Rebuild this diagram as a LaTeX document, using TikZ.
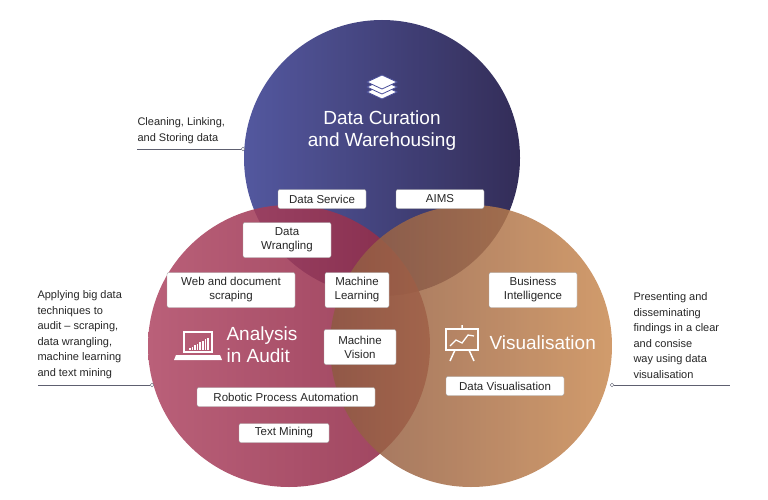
\documentclass[tikz,border=0pt]{standalone}
\usepackage{fontspec}
\setmainfont{Liberation Sans}
\usetikzlibrary{positioning}
\definecolor{curation}{HTML}{4A4F9A}
\definecolor{curationdark}{HTML}{28224F}
\definecolor{audit}{HTML}{B04A66}
\definecolor{auditdark}{HTML}{8E2846}
\definecolor{visual}{HTML}{8E5A42}
\definecolor{visuallight}{HTML}{C98A52}
\definecolor{note}{HTML}{5E6070}
\tikzset{
  tag/.style={draw=gray!70,fill=white,rounded corners=2pt,align=center,
    font=\fontsize{11.5}{14}\selectfont,text=black!85,inner sep=2pt},
  title/.style={text=white,align=left,font=\fontsize{19}{22}\selectfont},
  remark/.style={align=left,anchor=south west,font=\fontsize{11}{15.5}\selectfont,text=black!85},
  lead/.style={draw=note,thin},
  dot/.style={circle,draw=note,fill=white,inner sep=1.3pt}
}
\begin{document}
\begin{tikzpicture}[x=1pt,y=-1pt]
    \useasboundingbox (0,0) rectangle (768,500);
    % the three circles
    \shade[left color=curation,right color=curationdark,fill opacity=0.95] (382,158) circle[radius=138pt];
    \shade[left color=audit,right color=auditdark,fill opacity=0.88] (289,346) circle[radius=141pt];
    \shade[left color=visual,right color=visuallight,fill opacity=0.85] (471,346) circle[radius=141pt];
    % titles
    \node[title,align=center] (curate) at (382,131) {Data Curation\\and Warehousing};
    \node[title,anchor=west] (audit) at (223,345) {Analysis\\in Audit};
    \node[title,anchor=west] (vis) at (486,343) {Visualisation};
    % layers icon
    \foreach \dy in {10,5,0}
      \draw[white,fill=white,draw=curation,line width=0.8pt] (382,{75+\dy}) -- (397,{82+\dy}) -- (382,{89+\dy}) -- (367,{82+\dy}) -- cycle;
    % laptop icon
    \draw[white,line width=1.6pt] (184,332) rectangle (212,352);
    \fill[white] (176,355) -- (220,355) -- (222,360) -- (174,360) -- cycle;
    \foreach \i in {0,...,7}
      \fill[white] ({189+2.6*\i},{348-1.5*\i}) rectangle ++(1.6,{1.5*\i+2});
    % easel icon
    \draw[white,line width=1.5pt] (446,329) rectangle (478,350);
    \draw[white,line width=1.3pt] (450,346) -- (456,340) -- (462,343) -- (468,335) -- (474,336);
    \draw[white,line width=1.5pt] (462,325) -- (462,329) (455,350) -- (450,361) (469,350) -- (474,361);
    % tags
    \node[tag,minimum width=88pt,minimum height=19pt] (service) at (322,199) {Data Service};
    \node[tag,minimum width=88pt,minimum height=19pt] (aims) at (440,199) {AIMS};
    \node[tag,minimum width=88pt,minimum height=35pt] (wrangle) at (287,240) {Data\\Wrangling};
    \node[tag,minimum width=128pt,minimum height=35pt] (scrape) at (231,290) {Web and document\\scraping};
    \node[tag,minimum width=64pt,minimum height=35pt] (learn) at (357,290) {Machine\\Learning};
    \node[tag,minimum width=72pt,minimum height=35pt] (vision) at (360,347) {Machine\\Vision};
    \node[tag,minimum width=88pt,minimum height=35pt] (bi) at (533,290) {Business\\Intelligence};
    \node[tag,minimum width=118pt,minimum height=19pt] (dataviz) at (505,386) {Data Visualisation};
    \node[tag,minimum width=178pt,minimum height=19pt] (rpa) at (286,397) {Robotic Process Automation};
    \node[tag,minimum width=90pt,minimum height=19pt] (mining) at (284,433) {Text Mining};
    % side notes
    \node[remark] (n1) at (134,147) {Cleaning, Linking,\\and Storing data};
    \coordinate (n1a) at (137,149);
    \node[dot] (d1) at (243,149) {};
    \draw[lead] (n1a) -- (d1);
    \node[remark] (n2) at (34,382) {Applying big data\\techniques to\\audit -- scraping,\\data wrangling,\\machine learning\\and text mining};
    \coordinate (n2a) at (38,385);
    \node[dot] (d2) at (152,385) {};
    \draw[lead] (n2a) -- (d2);
    \node[remark] (n3) at (630,382) {Presenting and\\disseminating\\findings in a clear\\and consise\\way using data\\visualisation};
    \coordinate (n3a) at (730,385);
    \node[dot] (d3) at (612,385) {};
    \draw[lead] (d3) -- (n3a);
\end{tikzpicture}
\end{document}
